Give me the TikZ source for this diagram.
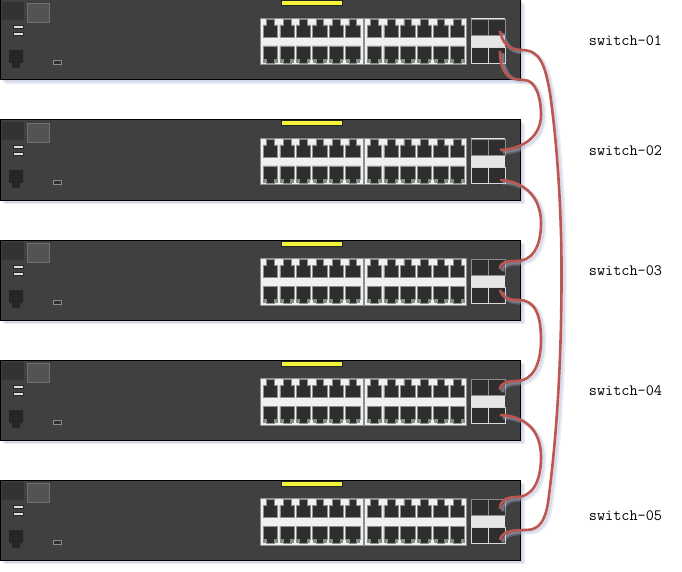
\documentclass[tikz,border=0pt]{standalone}
\usepackage{xcolor}
\usepackage{tikz}
\usetikzlibrary{positioning,calc}

\definecolor{chassiscol}{HTML}{404040}
\definecolor{portcol}{HTML}{2E2E2E}
\definecolor{panelcol}{HTML}{F0F0F0}
\definecolor{edgecol}{HTML}{8F8F8F}
\definecolor{cablecol}{HTML}{BC5650}
\definecolor{glowcol}{HTML}{B4BAD6}
\definecolor{ledcol}{HTML}{7F927F}
\definecolor{statuscol}{HTML}{D3E6D3}
\definecolor{barcol}{HTML}{F4F43C}

\tikzset{
  chassis/.style={draw=black, fill=chassiscol, line width=1pt, minimum width=520pt, minimum height=80pt, inner sep=0pt,
    preaction={draw=none, fill=glowcol, fill opacity=0.3, transform canvas={shift={(4,4)}}},
    preaction={draw=none, fill=glowcol, fill opacity=0.4, transform canvas={shift={(2.5,2.5)}}}},
  panel/.style={draw=edgecol, fill=panelcol, line width=1pt},
  port/.style={draw=edgecol, fill=portcol, line width=0.5pt},
  sfp/.style={draw=#1, fill=portcol, line width=0.7pt},
  swlabel/.style={font=\ttfamily\fontsize{15.8}{16}\selectfont, inner sep=0pt},
  cable/.style={draw=cablecol, line width=2.6pt,
    preaction={draw=glowcol, draw opacity=0.25, line width=4.5pt, transform canvas={shift={(3,2.5)}}},
    preaction={draw=glowcol, draw opacity=0.35, line width=2.5pt, transform canvas={shift={(2.5,2)}}}},
}

\begin{document}
\begin{tikzpicture}[x=1pt, y=-1pt]
\useasboundingbox (0,0) rectangle (682,572);

\foreach \n/\y/\ly/\ou/\od in {1/0/41/31/51, 2/120/151/30/60, 3/240/271/29/50, 4/360/391/30/55, 5/480/516/29/60} {
  \node[chassis] (switch\n) at (260.5,\y+40) {};
  \node[swlabel] (label\n) at (625.5,\ly) {switch-0\n};
  \begin{scope}[shift={(0,\y)}]
    % left side of the front
    \fill[black!20!chassiscol] (2,2) rectangle (24,20);
    \draw[fill=white!10!chassiscol, draw=white!25!chassiscol, line width=1pt] (27.5,3.5) rectangle (49.5,22.5);
    \draw[fill=statuscol, draw=black!40!chassiscol, line width=0.8pt] (13,25) rectangle (23,28.5);
    \draw[fill=statuscol, draw=black!40!chassiscol, line width=0.8pt] (13,32) rectangle (23,35.5);
    \fill[black!85] (9,50) -- (23,50) -- (23,63) -- (20,63) -- (20,68) -- (12,68) -- (12,63) -- (9,63) -- cycle;
    \draw[draw=white!40!chassiscol, fill=black!25!chassiscol, line width=1pt] (53.5,60.5) rectangle (61.5,64.5);
    \draw[draw=black!40!chassiscol, fill=barcol, line width=1pt] (281.5,1) rectangle (342,6);
    % RJ45 blocks
    \foreach \bx/\lft/\rgt/\pitch in {263.3/260.5/363/16.47, 367.3/364.5/466/16.6} {
      \draw[panel] (\lft,18.5) rectangle (\rgt,65);
      \foreach \i in {0,...,5} {
        \pgfmathsetmacro{\px}{\bx+\i*\pitch}
        \draw[port] (\px,25) -- (\px+3.3,25) -- (\px+3.3,19) -- (\px+11,19) -- (\px+11,25)
          -- (\px+14.3,25) -- (\px+14.3,37) -- (\px,37) -- cycle;
        \draw[port] (\px,46) -- (\px+14.3,46) -- (\px+14.3,59.6) -- (\px+11,59.6) -- (\px+11,63.5)
          -- (\px+3.3,63.5) -- (\px+3.3,59.6) -- (\px,59.6) -- cycle;
        \fill[ledcol] (\px+0.1,59.3) rectangle +(3.6,3.6);
        \fill[ledcol] (\px+10.6,59.3) rectangle +(3.6,3.6);
      }
    }
    % uplink block
    \fill[black!10!white] (471,18.5) rectangle (505,63.5);
    \draw[sfp=edgecol] (471.5,19) rectangle (488,35);
    \draw[sfp=edgecol] (488,19) rectangle (505,35);
    \draw[sfp=white!70!gray] (471.5,47.5) rectangle (488,63);
    \draw[sfp=white!70!gray] (488,47.5) rectangle (505,63);
  \end{scope}
  \coordinate (up\n) at (500,\y+\ou);
  \coordinate (down\n) at (500,\y+\od);
}

\draw[cable] (up1) .. controls (502,42) and (508,50) .. (522,50) .. controls (540,50) and (545,65) .. (550,93)
  .. controls (558,150) and (562,220) .. (561.5,285) .. controls (561,380) and (555,450) .. (548,503)
  .. controls (545,520) and (540,530) .. (526,530) .. controls (510,530) and (502,532) .. (down5);
\draw[cable] (down1) .. controls (500,70) and (506,80) .. (524,80) .. controls (536,80) and (541,98) .. (541,115)
  .. controls (541,135) and (525,149) .. (up2);
\draw[cable] (down2) .. controls (522,181) and (541,195) .. (541,223) .. controls (541,250) and (530,261) .. (517,261)
  .. controls (507,261) and (500,262) .. (up3);
\draw[cable] (down3) .. controls (503,299) and (510,300) .. (519,300) .. controls (535,300) and (541,315) .. (541,340)
  .. controls (541,365) and (532,381) .. (517,381) .. controls (507,381) and (500,383) .. (up4);
\draw[cable] (down4) .. controls (525,416) and (541,430) .. (541,457) .. controls (541,485) and (530,497) .. (517,497)
  .. controls (507,497) and (500,500) .. (up5);
\end{tikzpicture}
\end{document}
